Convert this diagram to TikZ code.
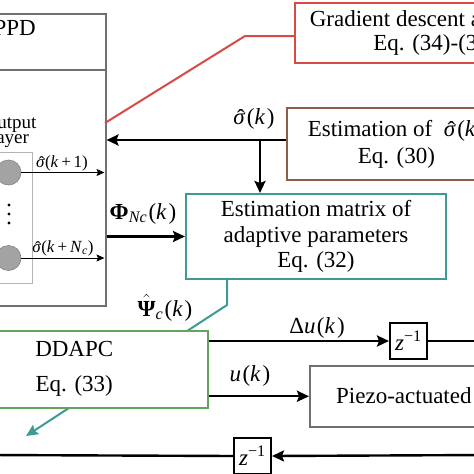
\documentclass[tikz,border=0pt]{standalone}
\usepackage{fontspec}
\setmainfont{Liberation Serif}
\usetikzlibrary{arrows.meta,calc}
\definecolor{tealc}{HTML}{3E9A95}
\definecolor{redc}{HTML}{D84A44}
\definecolor{brownc}{HTML}{8E5C4C}
\definecolor{greenc}{HTML}{62A45C}
\definecolor{grayc}{HTML}{707070}
\definecolor{lgrayc}{HTML}{B4B4B4}
\definecolor{nodec}{HTML}{A3A3A3}
\newcommand\sighat{\ooalign{\textit{σ}\cr\hidewidth\kern0.14em\raisebox{-0.06em}{ˆ}\hidewidth\cr}}
\newcommand\psihat{\ensuremath{\hat{\mbox{\textbf{Ψ}}}}}
\newcommand\zinv{\textit{z}\textsuperscript{−1}}
\newcommand\kk{\kern0.06em(\textit{k}\kern0.08em)}
\newcommand\bigfont{\fontsize{23}{24}\selectfont}
\begin{document}
\begin{tikzpicture}[x=1pt,y=-1pt,
 box/.style={draw, inner sep=0pt, anchor=north west, align=center, font=\bigfont},
 lbl/.style={inner sep=0pt, anchor=base, font=\bigfont},
 slbl/.style={inner sep=0pt, anchor=base, font=\fontsize{17}{18}\selectfont},
 arr/.style={line width=2.4pt, -{Stealth[length=12pt,width=11pt,inset=2pt]}},
 ln/.style={line width=2.4pt},
 thinarr/.style={line width=1pt, -{Stealth[length=8pt,width=7pt,inset=1.5pt]}},
 dotnode/.style={circle, fill=black, inner sep=0pt, minimum size=3.4pt},
 neuron/.style={circle, fill=nodec, draw=nodec!80!black, line width=0.6pt, inner sep=0pt, minimum size=25pt},
]
\useasboundingbox (0,0) rectangle (474,474);
\clip (0,0) rectangle (474,474);

% PPD network box
\node[box, draw=grayc, line width=1.5pt, minimum width=165pt, minimum height=56pt] (hdr) at (-60,13) {};
\node[box, draw=grayc, line width=1.5pt, minimum width=165pt, minimum height=236pt] (nnb) at (-60,69) {};
\node[lbl, anchor=base east] (ppd) at (36,35) {PPD};
\node[inner sep=0pt, anchor=base, font=\fontsize{19}{20}\selectfont] (outt) at (10,128) {Output};
\node[inner sep=0pt, anchor=base, font=\fontsize{19}{20}\selectfont] (layt) at (10,143) {layer};
\node[box, draw=lgrayc, line width=1pt, minimum width=72pt, minimum height=131pt] (outl) at (-40,152) {};
\node[neuron] (c1) at (8.5,172.5) {};
\node[neuron] (c2) at (8.5,258) {};
\node[dotnode] (d1) at (9,205) {};
\node[dotnode] (d2) at (9,214) {};
\node[dotnode] (d3) at (9,223) {};
\draw[thinarr] (c1.east) -- ($(c1 -| nnb.east)+(-2,0)$);
\draw[thinarr] (c2.east) -- ($(c2 -| nnb.east)+(-2,0)$);
\node[slbl] (ls1) at (62,167) {\sighat(\textit{k}\,+\,1)};
\node[slbl] (ls2) at (63,252) {\sighat(\textit{k}\,+\,\textit{N}\textsubscript{\textit{c}})};

% Gradient descent box
\node[box, draw=redc, line width=2pt, minimum width=280pt, minimum height=60pt] (grad) at (294,2) {Gradient descent algorithm\\Eq. (34)-(36)};
\coordinate (rs) at (105,123);
\coordinate (rb) at (245,36);
\draw[redc, line width=2pt] (rs) -- (rb) -- (rb -| grad.west);

% Estimation of sigma
\node[box, draw=brownc, line width=1.8pt, minimum width=219pt, minimum height=72pt, font=\fontsize{23}{27}\selectfont] (est) at (286,107) {Estimation of\ \ \sighat\kk\\Eq. (30)};
\coordinate (j) at (260,140);
\draw[arr] (j -| est.west) -- (j -| nnb.east);
\node[lbl] (lsk) at (254,124) {\sighat\kk};

% Estimation matrix
\node[box, draw=tealc, line width=2pt, minimum width=260pt, minimum height=85pt, font=\fontsize{23}{25.5}\selectfont] (mat) at (185,193) {Estimation matrix of\\adaptive parameters\\Eq. (32)};
\draw[arr] (j) -- (j |- mat.north);
\draw[arr] (mat.west -| nnb.east) -- (mat.west);
\node[lbl] (lphi) at (143,219) {\textbf{Φ}\textsubscript{\textit{Nc}}\kk};

% teal adaptation arrow
\coordinate (t1) at (227,305);
\coordinate (t2) at (26,436);
\draw[tealc, line width=2pt, -{Stealth[length=12pt,width=11pt,inset=2pt]}] (t1 |- mat.south) -- (t1) -- (t2);
\node[lbl] (lpsi) at (165,316) {\psihat\textsubscript{\textit{c}}\kk};

% DDAPC
\node[box, draw=greenc, fill=white, line width=1.5pt, minimum width=267pt, minimum height=77pt] (ctrl) at (-60,330) {DDAPC\\[11pt]Eq. (33)};

% z^-1 boxes
\node[box, line width=2pt, minimum width=37pt, minimum height=36pt] (zb1) at (389,322) {\zinv};
\node[box, line width=2pt, minimum width=37pt, minimum height=36pt] (zb2) at (233,437) {\zinv};

% Piezo box
\node[box, draw=grayc, line width=1.5pt, minimum width=260pt, minimum height=61pt] (plant) at (309,365) {};
\node[lbl, anchor=base west] (plt) at (336,403) {Piezo-actuated};

% signals
\draw[arr] (zb1.west -| ctrl.east) -- (zb1.west);
\node[lbl] (ldu) at (317,333) {Δ\textit{u}\kk};
\coordinate (r1) at (485,0);
\draw[ln] (zb1.east) -- (zb1.east -| r1);
\draw[arr] (plant.west -| ctrl.east) -- (plant.west);
\node[lbl] (lu) at (250,381) {\textit{u}\kk};
\coordinate (r2) at (485,455);
\coordinate (l2) at (-10,455);
\draw[arr] (r2) -- (zb2.east);
\draw[ln] (zb2.west) -- (l2);
\end{tikzpicture}
\end{document}
